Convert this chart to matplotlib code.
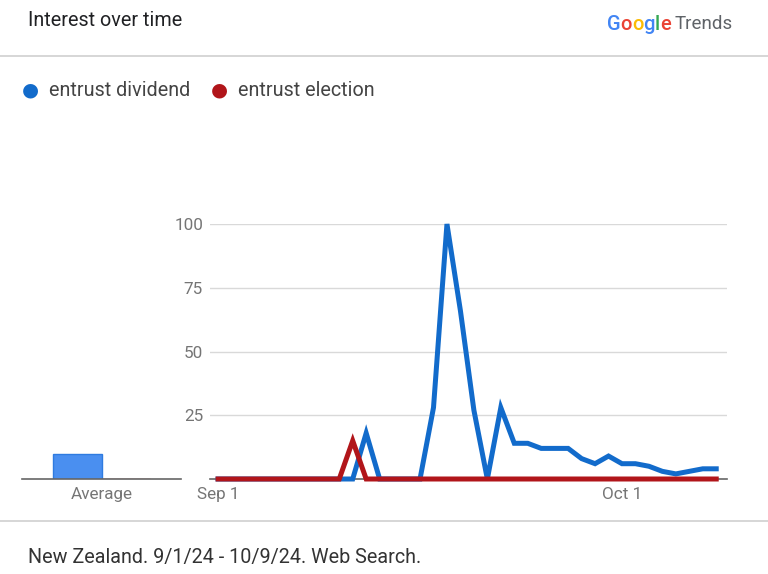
import numpy as np
import matplotlib
matplotlib.use("Agg")
import matplotlib.pyplot as plt

plt.rcParams['font.family'] = ['Roboto', 'DejaVu Sans']

# daily values, Sep 1 .. Oct 8 2024
dividend = [0, 0, 0, 0, 0, 0, 0, 0, 0, 0,
            0, 18, 0, 0, 0, 0, 28, 100, 66, 27,
            0, 28, 14, 14, 12, 12, 12, 8, 6, 9,
            6, 6, 5, 3, 2, 3, 4, 4]
election = [0, 0, 0, 0, 0, 0, 0, 0, 0, 0,
            15, 0, 0, 0, 0, 0, 0, 0, 0, 0,
            0, 0, 0, 0, 0, 0, 0, 0, 0, 0,
            0, 0, 0, 0, 0, 0, 0, 0]
series_names = ['entrust dividend', 'entrust election']
averages = [10, 0]
tick_pos = [0, 30]
tick_labels = ['Sep 1', 'Oct 1']
y_ticks = [25, 50, 75, 100]

blue = '#126bcb'
red = '#b1151a'
grey_txt = '#757575'

W, H = 768, 574
fig = plt.figure(figsize=(W / 100, H / 100), dpi=100)

def fx(px):
    return px / W

def fy(py):
    return 1 - py / H

# header / footer
fig.text(fx(28), fy(21), 'Interest over time', fontsize=14.2, color='#202124', va='center')
logo = [('G', '#4285f4'), ('o', '#ea4335'), ('o', '#fbbc05'), ('g', '#4285f4'),
        ('l', '#34a853'), ('e', '#ea4335')]
renderer = fig.canvas.get_renderer()
xx = fx(607)
for ch, c in logo:
    t = fig.text(xx, fy(24), ch, fontsize=14.5, color=c, va='center', fontweight='medium')
    bb = t.get_window_extent(renderer)
    xx += bb.width / W
fig.text(xx + fx(4), fy(24), 'Trends', fontsize=13.5, color='#5f6368', va='center')

fig.add_artist(plt.Line2D([0, 1], [fy(56), fy(56)], color='#d0d0d0', lw=1.2))
fig.add_artist(plt.Line2D([0, 1], [fy(521), fy(521)], color='#d0d0d0', lw=1.2))
fig.text(fx(28), fy(557), 'New Zealand. 9/1/24 - 10/9/24. Web Search.',
         fontsize=14.2, color='#333333', va='center')

# legend
fig.text(fx(30), fy(90), '\u25cf', fontsize=14, color=blue, va='center', ha='center')
fig.text(fx(49), fy(90), series_names[0], fontsize=14.2, color='#444444', va='center')
fig.text(fx(219), fy(90), '\u25cf', fontsize=14, color=red, va='center', ha='center')
fig.text(fx(238), fy(90), series_names[1], fontsize=14.2, color='#444444', va='center')

# main line chart
ax = fig.add_axes([fx(210), fy(479), fx(727) - fx(210), fy(224) - fy(479)])
x = np.arange(len(dividend))
ax.plot(x, dividend, color=blue, lw=3.6, solid_joinstyle='miter', clip_on=False, zorder=3)
ax.plot(x, election, color=red, lw=3.6, solid_joinstyle='miter', clip_on=False, zorder=4)
ax.set_xlim(-0.6, 37.8)
ax.set_ylim(0, 100)
ax.set_yticks(y_ticks)
ax.set_yticklabels([str(v) for v in y_ticks])
ax.yaxis.grid(True, color='#d9d9d9', lw=1)
ax.set_axisbelow(True)
ax.set_xticks(tick_pos)
ax.set_xticklabels(tick_labels)
for s in ['top', 'right', 'left']:
    ax.spines[s].set_visible(False)
ax.spines['bottom'].set_color('#666666')
ax.spines['bottom'].set_linewidth(1.2)
ax.tick_params(axis='y', length=0, pad=5, labelsize=12.3, labelcolor=grey_txt)
ax.tick_params(axis='x', length=0, pad=6, labelsize=12.3, labelcolor=grey_txt)

# average bars
ax2 = fig.add_axes([fx(22), fy(479), fx(181) - fx(22), fy(224) - fy(479)])
ax2.bar([0.348, 0.654], averages, width=0.306, color=['#4a8ff0', '#c5221f'],
        edgecolor=['#2f7be0', '#c5221f'], lw=1)
ax2.set_xlim(0, 1)
ax2.set_ylim(0, 100)
ax2.set_yticks([])
ax2.set_xticks([0.5])
ax2.set_xticklabels(['Average'])
for s in ['top', 'right', 'left']:
    ax2.spines[s].set_visible(False)
ax2.spines['bottom'].set_color('#666666')
ax2.spines['bottom'].set_linewidth(1.2)
ax2.tick_params(axis='x', length=0, pad=6, labelsize=12.3, labelcolor=grey_txt)
ax2.patch.set_alpha(0)

fig.savefig('out.png', dpi=100)
